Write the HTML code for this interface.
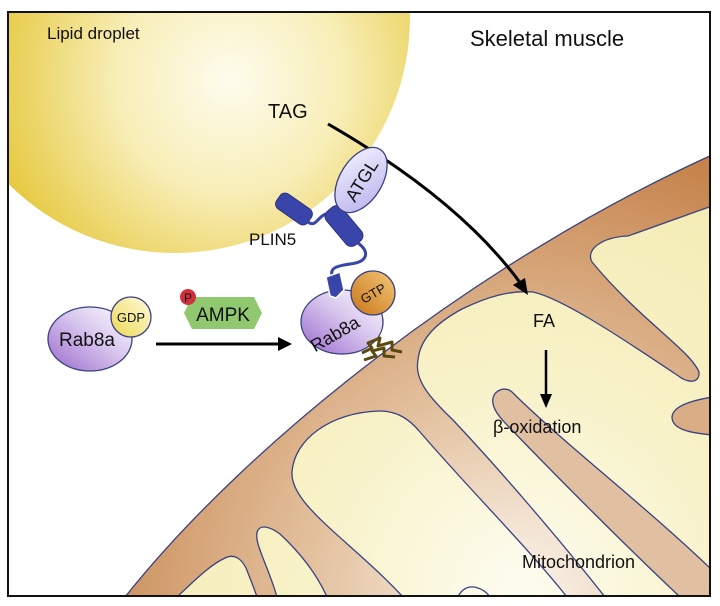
<!DOCTYPE html>
<html><head><meta charset="utf-8"><style>
html,body{margin:0;padding:0;background:#fff;}
svg{display:block;}
text{font-family:"Liberation Sans",Arial,sans-serif;fill:#111;}
</style></head><body>
<svg width="720" height="606" viewBox="0 0 720 606" xmlns="http://www.w3.org/2000/svg">
<defs>
<radialGradient id="ld" cx="230" cy="80" r="250" gradientUnits="userSpaceOnUse">
<stop offset="0" stop-color="#fefcee"/><stop offset="0.45" stop-color="#f8eeb8"/><stop offset="1" stop-color="#e5c73a"/>
</radialGradient>
<radialGradient id="br" cx="520" cy="600" r="470" gradientUnits="userSpaceOnUse">
<stop offset="0" stop-color="#fbf6ee"/><stop offset="0.45" stop-color="#e3c19e"/><stop offset="1" stop-color="#c6834b"/>
</radialGradient>
<radialGradient id="pl" cx="520" cy="590" r="420" gradientUnits="userSpaceOnUse">
<stop offset="0" stop-color="#fdfcf0"/><stop offset="0.5" stop-color="#f8f2c8"/><stop offset="1" stop-color="#f4ecb6"/>
</radialGradient>
<linearGradient id="pu" x1="0" y1="1" x2="1" y2="0">
<stop offset="0" stop-color="#9a68cc"/><stop offset="0.55" stop-color="#d8c6ee"/><stop offset="1" stop-color="#ffffff"/>
</linearGradient>
<linearGradient id="lv" x1="0" y1="1" x2="1" y2="0">
<stop offset="0" stop-color="#b8b2ec"/><stop offset="1" stop-color="#f4f2ff"/>
</linearGradient>
<linearGradient id="or" x1="0" y1="1" x2="1" y2="0">
<stop offset="0" stop-color="#c87416"/><stop offset="1" stop-color="#f3c878"/>
</linearGradient>
<linearGradient id="ye" x1="0" y1="1" x2="1" y2="0">
<stop offset="0" stop-color="#ecd850"/><stop offset="1" stop-color="#fffbe0"/>
</linearGradient>
<clipPath id="fr"><rect x="9" y="13" width="700" height="582"/></clipPath>
</defs>

<g clip-path="url(#fr)">
<!-- lipid droplet -->
<circle cx="175" cy="18" r="235" fill="url(#ld)"/>

<!-- mitochondrion -->
<path d="M125,597 C250,440 480,260 712,155 L712,597 Z" fill="url(#br)" stroke="#3b4280" stroke-width="1.3"/>
<g fill="url(#pl)" stroke="#3b4280" stroke-width="1.3">
<path d="M592,262 C585,249 603,237 628,236 L712,206 L712,597 L605,597 C560,540 500,470 453,420 C430,398 414,380 418,360 C420,338 438,322 462,309 C487,297 510,290 533,292 C560,298 610,330 677,375 C690,385 700,382 699,372 C690,350 640,320 592,262 Z"/>
<path d="M403,597 C350,540 290,505 292,472 C294,440 330,412 380,411 C398,411 410,420 420,432 C470,490 530,550 567,597 Z"/>
<path d="M277,597 C268,565 252,540 258,530 C262,524 272,528 280,534 C295,548 315,570 327,597 Z"/>
<path d="M177,597 C195,580 210,565 225,558 C235,553 242,560 246,568 C250,578 254,588 257,597 Z"/>
<path d="M458,597 C462,588 470,585 478,588 C484,590 488,594 490,597 Z"/>
</g>
<g fill="#d9ad86" stroke="#3b4280" stroke-width="1.3">
<path d="M712,397 C695,400 673,405 672,417 C672,430 692,433 712,435 Z"/>
<path d="M712,570 C650,510 560,440 512,392 C505,386 495,390 493,398 C491,408 500,418 510,428 C560,480 630,550 680,597 L712,597 Z" fill="#e0c0a0"/>
</g>
</g>

<rect x="8" y="12" width="702" height="584" fill="none" stroke="#111" stroke-width="2"/>

<!-- TAG arrow -->
<path d="M328,124 Q460,200 521,284" fill="none" stroke="#000" stroke-width="3"/>
<polygon points="528,295 513,285 525,278" fill="#000"/>

<!-- PLIN5 protein -->
<g fill="#3a45aa" stroke="#2a3080" stroke-width="1">
<rect x="275" y="200" width="38" height="18" rx="6" transform="rotate(35 294 209)"/>
<path d="M308,222 C316,228 318,216 326,214" fill="none" stroke="#3a45aa" stroke-width="3"/>
<rect x="322" y="216" width="44" height="20" rx="7" transform="rotate(50 344 226)"/>
<path d="M358,243 C370,252 368,262 350,264 C336,266 330,268 332,276" fill="none" stroke="#3a45aa" stroke-width="3"/>
</g>

<!-- ATGL -->
<g transform="rotate(-58 361 180)">
<ellipse cx="361" cy="180" rx="36" ry="21" fill="url(#lv)" stroke="#3b4280" stroke-width="1.3"/>
<text x="361" y="187" font-size="18" text-anchor="middle">ATGL</text>
</g>

<!-- right Rab8a -->
<ellipse cx="342" cy="322" rx="41" ry="32" fill="url(#pu)" stroke="#3b4280" stroke-width="1.3"/>
<path d="M326,277 L340,272 L344,290 L336,298 L330,296 Z" fill="#3a45aa" stroke="#fff" stroke-width="1.5"/>
<text x="335" y="340" font-size="18" text-anchor="middle" transform="rotate(-30 335 334)">Rab8a</text>
<circle cx="373" cy="293" r="22" fill="url(#or)" stroke="#3b4280" stroke-width="1.3"/>
<text x="373" y="298" font-size="13" text-anchor="middle" transform="rotate(-30 373 293)">GTP</text>
<g fill="none" stroke="#5a4a10" stroke-width="3" stroke-linejoin="round">
<path d="M362,353 L372,348 L368,343 L380,338 L378,346 L392,342 L392,350 L402,352"/>
<path d="M364,360 L376,356 L372,351 L384,348 L384,356 L395,357"/>
</g>

<!-- left Rab8a -->
<ellipse cx="90" cy="339" rx="42" ry="32" fill="url(#pu)" stroke="#3b4280" stroke-width="1.3"/>
<circle cx="131" cy="317" r="20" fill="url(#ye)" stroke="#3b4280" stroke-width="1.3"/>
<text x="131" y="322" font-size="13" text-anchor="middle">GDP</text>
<text x="59" y="346" font-size="19">Rab8a</text>

<!-- AMPK -->
<polygon points="184,313 192,297 254,297 262,313 254,329 192,329" fill="#90c870"/>
<text x="223" y="321" font-size="19" text-anchor="middle">AMPK</text>
<circle cx="188" cy="297" r="8" fill="#d0303c"/>
<text x="188" y="302" font-size="12" text-anchor="middle">P</text>

<line x1="156" y1="344" x2="280" y2="344" stroke="#000" stroke-width="3"/>
<polygon points="292,344 278,337 278,351" fill="#000"/>

<line x1="546" y1="350" x2="546" y2="396" stroke="#000" stroke-width="2.5"/>
<polygon points="546,408 540,394 552,394" fill="#000"/>

<text x="47" y="39" font-size="17">Lipid droplet</text>
<text x="470" y="46" font-size="22">Skeletal muscle</text>
<text x="268" y="118" font-size="20">TAG</text>
<text x="249" y="245" font-size="17">PLIN5</text>
<text x="533" y="327" font-size="18">FA</text>
<text x="493" y="433" font-size="18">β-oxidation</text>
<text x="522" y="568" font-size="18">Mitochondrion</text>
</svg>
</body></html>
